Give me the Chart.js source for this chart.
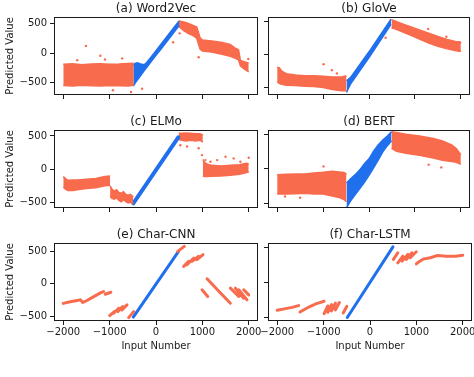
<!DOCTYPE html>
<html>
<head>
<meta charset="utf-8">
<script src="https://cdn.jsdelivr.net/npm/chart.js@4.4.0/dist/chart.umd.min.js"></script>
<style>
  body { margin: 0; background: #fff; }
  #wrap { position: relative; width: 474px; height: 377px; overflow: hidden; }
  canvas { position: absolute; }
</style>
</head>
<body>
<div id="wrap"></div>
<script>
// axes
const xTicks = [-2000, -1000, 0, 1000, 2000];
const yTicks = [-500, 0, 500];
const panelTitles = ['(a) Word2Vec', '(b) GloVe', '(c) ELMo', '(d) BERT', '(e) Char-CNN', '(f) Char-LSTM'];
const yLimits = [[-705, 605], [-620, 572], [-590, 590], [-568, 562], [-570, 625], [-545, 570]];

// (a) Word2Vec
const w2vLeftX  = [-2000, -1800, -1600, -1400, -1200, -1000, -800, -600, -480];
const w2vLeftLo = [-545, -555, -540, -550, -555, -545, -550, -555, -540];
const w2vLeftHi = [-190, -180, -195, -185, -180, -190, -185, -175, -170];
const w2vMidX   = [-490, -450, -400, -350, -300, -250, -200, -100, 0, 100, 200, 300, 400, 500];
const w2vMidLo  = [-555, -505, -450, -400, -345, -290, -240, -140, -40, 60, 160, 260, 360, 460];
const w2vMidHi  = [-205, -175, -165, -180, -190, -195, -160, -60, 40, 140, 240, 340, 440, 540];
const w2vRightX  = [490, 600, 700, 800, 880, 950, 1000, 1200, 1400, 1600, 1700, 1780, 1820, 1900, 2000];
const w2vRightHi = [540, 520, 495, 465, 435, 255, 220, 200, 180, 145, 85, 55, -125, -145, -170];
const w2vRightLo = [445, 375, 325, 295, 245, 65, 35, 15, -15, -55, -85, -115, -215, -265, -315];
const w2vDotX = [-1510, -1200, -730, -930, -540, 920, 1990, 370, 510, -1700, -1100, -300];
const w2vDotY = [120, -45, -90, -625, -655, -70, -100, 180, 330, -120, -110, -600];

// (b) GloVe
const gloveLeftX  = [-2000, -1950, -1900, -1800, -1600, -1400, -1200, -1000, -800, -600, -490];
const gloveLeftHi = [-195, -205, -255, -295, -315, -325, -325, -335, -345, -345, -325];
const gloveLeftLo = [-415, -445, -455, -470, -475, -485, -490, -505, -535, -555, -555];
const gloveMidX  = [-490, -450, -400, 0, 480];
const gloveMidLo = [-580, -520, -450, -50, 460];
const gloveMidHi = [-400, -380, -350, 40, 540];
const gloveRightX  = [490, 550, 700, 900, 1100, 1300, 1500, 1700, 1900, 1980, 2000];
const gloveRightHi = [530, 515, 475, 425, 375, 325, 275, 230, 195, 195, 165];
const gloveRightLo = [405, 395, 355, 295, 235, 175, 125, 85, 55, 45, 65];
const gloveDotX = [-990, -810, 1290, 1685, 362, -700];
const gloveDotY = [-150, -240, 390, 270, 255, -290];

// (c) ELMo
const elmoSeg1X  = [-2000, -1950, -1900, -1800, -1700, -1500, -1300, -1100, -990];
const elmoSeg1Hi = [-115, -145, -170, -165, -165, -155, -145, -115, -105];
const elmoSeg1Lo = [-275, -305, -325, -325, -315, -295, -285, -255, -245];
const elmoSeg2X  = [-990, -950, -900, -850, -800, -750, -700, -650, -600, -550, -490];
const elmoSeg2Hi = [-255, -305, -335, -315, -355, -365, -345, -385, -395, -385, -425];
const elmoSeg2Lo = [-415, -445, -455, -435, -475, -495, -465, -495, -515, -505, -525];
const elmoBlueX = [-490, 480];
const elmoBlueY = [-520, 480];
const elmoSeg3X  = [490, 550, 650, 750, 850, 950, 1010];
const elmoSeg3Hi = [540, 540, 545, 540, 535, 535, 515];
const elmoSeg3Lo = [445, 435, 425, 435, 425, 435, 405];
const elmoSeg4X  = [1010, 1040, 1100, 1200, 1400, 1600, 1800, 1950, 2000];
const elmoSeg4Hi = [145, 105, 75, 55, 45, 55, 65, 85, 75];
const elmoSeg4Lo = [-105, -115, -115, -110, -105, -95, -80, -55, -45];
const elmoDotX = [525, 670, 920, 990, 1065, 1175, 1320, 1500, 1675, 1820, 2000];
const elmoDotY = [360, 340, 315, 210, 135, 110, 135, 185, 160, 110, 170];

// (d) BERT
const bertLeftX  = [-2000, -1800, -1600, -1400, -1200, -1000, -800, -650, -550, -490];
const bertLeftHi = [-85, -80, -75, -75, -60, -50, -35, -45, -55, -75];
const bertLeftLo = [-365, -365, -360, -355, -365, -365, -395, -415, -445, -475];
const bertMidX  = [-490, -400, -300, -200, -100, 0, 100, 200, 300, 400, 490];
const bertMidHi = [-205, -145, -85, -15, 75, 145, 255, 345, 415, 475, 535];
const bertMidLo = [-565, -465, -375, -285, -195, -95, 15, 125, 245, 335, 405];
const bertRightX  = [490, 600, 800, 1100, 1400, 1600, 1800, 1900, 2000];
const bertRightHi = [535, 525, 500, 475, 440, 405, 345, 295, 205];
const bertRightLo = [295, 255, 225, 195, 155, 125, 105, 95, 65];
const bertDotX = [-990, 1575, -1830, 1300, -1500];
const bertDotY = [35, 20, -400, 60, -420];

// (e) Char-CNN  (null = gap between streaks)
const cnnOrangeX = [-2000, -1850, -1700, -1630, -1580, -1500, -1350, -1200, -1130, null,
  -1095, -975, null, -1000, -899, null, -914, -806, null, -820, -719, null, -734, -626, null,
  -590, -482, null, 468, 611, null, 597, 705, null, 669, 813, null, 777, 921, null, 885, 1014, null,
  993, 1115, null, 1101, 1350, 1604, null, 1604, 1784, null, 1712, 1892, null, 1784, 1964, null, 1892, 2000];
const cnnOrangeY = [-300, -275, -255, -245, -285, -260, -200, -140, -118, null,
  -160, -130, null, -487, -426, null, -451, -374, null, -426, -349, null, -400, -323, null,
  -518, -426, null, 497, 574, null, 267, 344, null, 292, 395, null, 344, 421, null, 369, 446, null,
  -92, -195, null, 77, -110, -297, null, -67, -195, null, -67, -221, null, -92, -246, null, -92, -170];
const cnnBlueX = [-490, 490];
const cnnBlueY = [-510, 500];

// (f) Char-LSTM
const lstmOrangeX = [-2000, -1820, -1680, -1540, null, -1510, -1320, -1170, -1100, -990, null,
  -990, -910, null, -910, -830, null, -830, -745, null, -745, -660, null, -578, -499, null,
  506, 600, null, 600, 709, null, 694, 817, null, 781, 904, null, 868, 998, null,
  1000, 1050, 1150, 1300, 1450, 1650, 1850, 2000];
const lstmOrangeY = [-390, -368, -350, -325, null, -416, -345, -300, -285, -263, null,
  -440, -330, null, -420, -310, null, -400, -290, null, -385, -280, null, -431, -335, null,
  335, 431, null, 287, 383, null, 311, 407, null, 335, 431, null, 359, 445, null,
  270, 300, 340, 360, 390, 380, 382, 395];
const lstmBlueX = [-490, 495];
const lstmBlueY = [-495, 515];

const FONT = "'DejaVu Sans', sans-serif";
const INK = '#1a1a1a';
const ORANGE = '#f96b4d';
const BLUE = '#2070ee';

function pts(xs, ys) {
  return xs.map((x, i) => ({ x: x === null ? xs[i - 1] : x, y: ys[i] }));
}
// dense point cloud drawn as a filled band between its lower and upper edge
function band(xs, lo, hi, color) {
  return [
    { data: pts(xs, lo), borderColor: color, borderWidth: 1.5, pointRadius: 0, fill: false },
    { data: pts(xs, hi), borderColor: color, borderWidth: 1.5, pointRadius: 0, fill: '-1', backgroundColor: color }
  ];
}
function streak(xs, ys, color, w) {
  return { data: pts(xs, ys), borderColor: color, borderWidth: w, borderCapStyle: 'round', pointRadius: 0, fill: false };
}
function dots(xs, ys, color) {
  return { data: pts(xs, ys), showLine: false, pointRadius: 1.2, pointBorderWidth: 0, pointBackgroundColor: color };
}

const panelSets = [
  [...band(w2vLeftX, w2vLeftLo, w2vLeftHi, ORANGE), ...band(w2vMidX, w2vMidLo, w2vMidHi, BLUE),
   ...band(w2vRightX, w2vRightLo, w2vRightHi, ORANGE), dots(w2vDotX, w2vDotY, ORANGE)],
  [...band(gloveLeftX, gloveLeftLo, gloveLeftHi, ORANGE), ...band(gloveMidX, gloveMidLo, gloveMidHi, BLUE),
   ...band(gloveRightX, gloveRightLo, gloveRightHi, ORANGE), dots(gloveDotX, gloveDotY, ORANGE)],
  [...band(elmoSeg1X, elmoSeg1Lo, elmoSeg1Hi, ORANGE), ...band(elmoSeg2X, elmoSeg2Lo, elmoSeg2Hi, ORANGE),
   streak(elmoBlueX, elmoBlueY, BLUE, 4), ...band(elmoSeg3X, elmoSeg3Lo, elmoSeg3Hi, ORANGE),
   ...band(elmoSeg4X, elmoSeg4Lo, elmoSeg4Hi, ORANGE), dots(elmoDotX, elmoDotY, ORANGE)],
  [...band(bertLeftX, bertLeftLo, bertLeftHi, ORANGE), ...band(bertMidX, bertMidLo, bertMidHi, BLUE),
   ...band(bertRightX, bertRightLo, bertRightHi, ORANGE), dots(bertDotX, bertDotY, ORANGE)],
  [streak(cnnOrangeX, cnnOrangeY, ORANGE, 3), streak(cnnBlueX, cnnBlueY, BLUE, 3)],
  [streak(lstmOrangeX, lstmOrangeY, ORANGE, 3), streak(lstmBlueX, lstmBlueY, BLUE, 3)]
];

const fmt = v => String(v).replace('-', '\u2212');

const frame = {
  id: 'frame',
  afterDraw(chart) {
    const { ctx, chartArea: a } = chart;
    ctx.save();
    ctx.strokeStyle = INK;
    ctx.lineWidth = 1;
    ctx.strokeRect(Math.round(a.left) + 0.5, Math.round(a.top) + 0.5,
      Math.round(a.right) - Math.round(a.left) - 1, Math.round(a.bottom) - Math.round(a.top) - 1);
    ctx.restore();
  }
};

// layout of the 3x2 grid
const colLeft = [0, 256], colWidth = [268, 218], axisWidth = [54, 12], padRight = [10, 2];
const rowTop = [1, 114, 227], rowHeight = [100, 100, 127];

panelSets.forEach((sets, i) => {
  const col = i % 2, row = Math.floor(i / 2);
  const left = col === 0, bottom = row === 2;
  const cv = document.createElement('canvas');
  cv.width = colWidth[col]; cv.height = rowHeight[row];
  cv.style.left = colLeft[col] + 'px'; cv.style.top = rowTop[row] + 'px';
  cv.style.width = colWidth[col] + 'px'; cv.style.height = rowHeight[row] + 'px';
  document.getElementById('wrap').appendChild(cv);

  new Chart(cv, {
    type: 'line',
    data: { datasets: sets },
    options: {
      responsive: false,
      animation: false,
      devicePixelRatio: 1,
      layout: { padding: { left: 0, right: padRight[col], top: 0, bottom: 0 } },
      plugins: {
        legend: { display: false },
        tooltip: { enabled: false },
        title: {
          display: true, text: panelTitles[i], color: INK, fullSize: false,
          font: { family: FONT, size: 12, weight: 'normal' },
          padding: { top: 1, bottom: 0.6 }
        }
      },
      scales: {
        x: {
          type: 'linear', min: -2200, max: 2200,
          afterBuildTicks: s => { s.ticks = xTicks.map(v => ({ value: v })); },
          afterFit: s => { s.height = bottom ? 33 : 6; s.paddingLeft = 0; s.paddingRight = 0; },
          grid: { drawOnChartArea: false, drawTicks: true, tickLength: 4, color: INK, tickColor: INK },
          border: { display: false },
          ticks: { display: bottom, padding: 1, color: INK, autoSkip: false, maxRotation: 0,
                   font: { family: FONT, size: 10 }, callback: fmt },
          title: { display: bottom, text: 'Input Number', color: INK,
                   font: { family: FONT, size: 10 }, padding: { top: 0, bottom: 2 } }
        },
        y: {
          type: 'linear', min: yLimits[i][0], max: yLimits[i][1],
          afterBuildTicks: s => { s.ticks = yTicks.map(v => ({ value: v })); },
          afterFit: s => { s.width = axisWidth[col]; s.paddingTop = 0; s.paddingBottom = 0; },
          grid: { drawOnChartArea: false, drawTicks: true, tickLength: 4, color: INK, tickColor: INK },
          border: { display: false },
          ticks: { display: left, padding: 3, color: INK, font: { family: FONT, size: 10 }, callback: fmt },
          title: { display: left, text: 'Predicted Value', color: INK,
                   font: { family: FONT, size: 10 }, padding: { top: 4, bottom: 0 } }
        }
      }
    },
    plugins: [frame]
  });
});
</script>
</body>
</html>
